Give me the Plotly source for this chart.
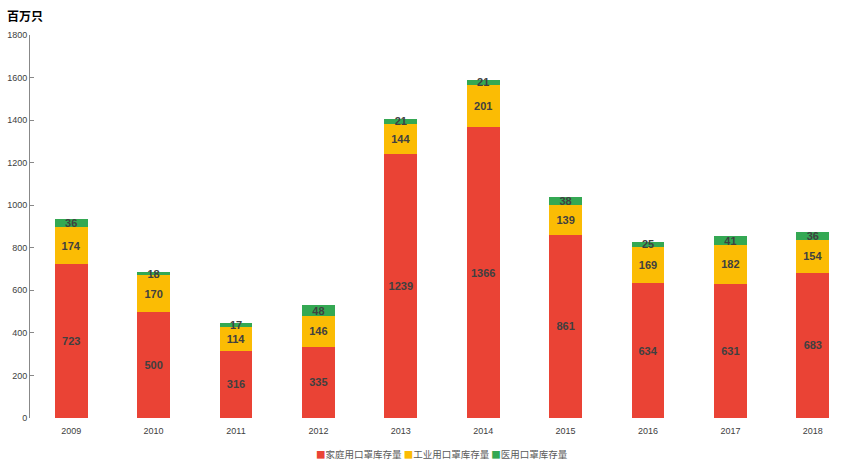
import plotly.graph_objects as go

years = ["2009", "2010", "2011", "2012", "2013", "2014", "2015", "2016", "2017", "2018"]
household = [723, 500, 316, 335, 1239, 1366, 861, 634, 631, 683]
industrial = [174, 170, 114, 146, 144, 201, 139, 169, 182, 154]
medical = [36, 18, 17, 48, 21, 21, 38, 25, 41, 36]

series = [
    ("家庭用口罩库存量", household, "#EA4335"),
    ("工业用口罩库存量", industrial, "#FBBC04"),
    ("医用口罩库存量", medical, "#34A853"),
]

fig = go.Figure()
for name, vals, color in series:
    fig.add_trace(go.Bar(
        x=years, y=vals, name=name,
        marker=dict(color=color, line=dict(width=0)),
        text=[str(v) for v in vals],
        textposition="inside", insidetextanchor="middle",
        textfont=dict(size=11, color="#404040", family="Liberation Sans"),
        texttemplate="<b>%{text}</b>",
        cliponaxis=False,
        showlegend=False,
    ))

legend_html = " ".join(
    f"<span style='color:{c}'>■</span>{n}" for n, _, c in series
)

fig.update_layout(
    barmode="stack",
    bargap=0.6,
    width=862, height=464,
    margin=dict(l=30, r=8, t=35, b=46, autoexpand=False),
    plot_bgcolor="white", paper_bgcolor="white",
    uniformtext=dict(minsize=11, mode="show"),
    font=dict(family="Liberation Sans", color="#595959"),
    showlegend=False,
    annotations=[
        dict(text="<b>百万只</b>", x=0, y=1, xref="paper", yref="paper",
             xshift=-25, yshift=9, xanchor="left", yanchor="bottom",
             showarrow=False, font=dict(size=12, color="#000000", family="Noto Sans CJK SC")),
        dict(text=legend_html, x=0.5, y=(464 - 454 - 46) / (464 - 35 - 46), xref="paper", yref="paper",
             xanchor="center", yanchor="middle",
             showarrow=False, font=dict(size=9.5, color="#595959", family="Noto Sans CJK SC")),
    ],
    xaxis=dict(showline=False, ticks="", tickfont=dict(size=9, color="#404040"),
               showgrid=False, ticklabelstandoff=6),
    yaxis=dict(range=[0, 1800], dtick=200, showgrid=False, showline=True,
               linecolor="#888888", linewidth=1, ticks="inside", ticklen=4,
               tickcolor="#888888", tickfont=dict(size=9, color="#404040"),
               zeroline=False),
)

fig.write_html("out.html")
